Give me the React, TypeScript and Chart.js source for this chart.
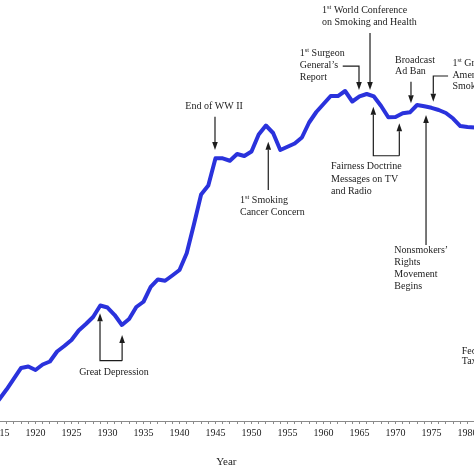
import { useEffect, useRef } from 'react';
import { Chart, registerables } from 'chart.js';

Chart.register(...registerables);

// Per-capita cigarette consumption by year
const years = [
  1914, 1915, 1916, 1917, 1918, 1919, 1920, 1921, 1922, 1923, 1924, 1925, 1926, 1927,
  1928, 1929, 1930, 1931, 1932, 1933, 1934, 1935, 1936, 1937, 1938, 1939, 1940, 1941,
  1942, 1943, 1944, 1945, 1946, 1947, 1948, 1949, 1950, 1951, 1952, 1953, 1954, 1955,
  1956, 1957, 1958, 1959, 1960, 1961, 1962, 1963, 1964, 1965, 1966, 1967, 1968, 1969,
  1970, 1971, 1972, 1973, 1974, 1975, 1976, 1977, 1978, 1979, 1980, 1981,
];
const perCapita = [
  170, 293, 423, 565, 707, 727, 680, 753, 793, 927, 1000, 1080, 1207, 1293,
  1387, 1540, 1513, 1413, 1280, 1360, 1520, 1590, 1787, 1887, 1870, 1940, 2013, 2236,
  2620, 3020, 3140, 3502, 3502, 3470, 3560, 3533, 3593, 3820, 3940, 3840, 3613, 3657,
  3700, 3780, 3980, 4120, 4227, 4333, 4333, 4400, 4260, 4327, 4360, 4327, 4200, 4050,
  4053, 4103, 4116, 4213, 4196, 4176, 4147, 4107, 4033, 3933, 3920, 3913,
];

const AXIS_MIN_YEAR = 1900;
const AXIS_MAX_YEAR = 1993;
const LABEL_EVERY = 5;
const AXIS_TITLE = 'Year';

const SERIF = "'Liberation Serif', 'Times New Roman', serif";
const INK = '#1c1c1c';

// Historical events: text anchored in (year, value) space, "{st}" marks superscript.
type EventNote = {
  lines: string[];
  at: [number, number];
  align: 'left' | 'center';
  gap: number;
  arrows: [number, number][][];
};

const EVENTS: EventNote[] = [
  {
    lines: ['Great Depression'],
    at: [1930.9, 653],
    align: 'center',
    gap: 12,
    arrows: [
      [[1932.03, 804], [1928.96, 804], [1928.96, 1436]],
      [[1932.03, 804], [1932.03, 1147]],
    ],
  },
  {
    lines: ['End of WW II'],
    at: [1944.8, 4200],
    align: 'center',
    gap: 12,
    arrows: [[[1944.93, 4057], [1944.93, 3613]]],
  },
  {
    lines: ['1{st} Smoking', 'Cancer Concern'],
    at: [1948.4, 2937],
    align: 'left',
    gap: 12,
    arrows: [[[1952.33, 3080], [1952.33, 3724]]],
  },
  {
    lines: ['1{st} World Conference', 'on Smoking and Health'],
    at: [1959.8, 5471],
    align: 'left',
    gap: 12,
    arrows: [[[1966.46, 5173], [1966.46, 4413]]],
  },
  {
    lines: ['1{st} Surgeon', 'General\u2019s', 'Report'],
    at: [1956.7, 4903],
    align: 'left',
    gap: 12,
    arrows: [[[1962.67, 4733], [1964.93, 4733], [1964.93, 4413]]],
  },
  {
    lines: ['Broadcast', 'Ad Ban'],
    at: [1969.93, 4813],
    align: 'left',
    gap: 11.7,
    arrows: [[[1972.15, 4524], [1972.15, 4236]]],
  },
  {
    lines: ['1{st} Great', 'American', 'Smokeout'],
    at: [1977.9, 4769],
    align: 'left',
    gap: 11.7,
    arrows: [[[1977.3, 4600], [1975.25, 4600], [1975.25, 4257]]],
  },
  {
    lines: ['Fairness Doctrine', 'Messages on TV', 'and Radio'],
    at: [1961.04, 3391],
    align: 'left',
    gap: 12.2,
    arrows: [
      [[1970.53, 3537], [1966.92, 3537], [1966.92, 4191]],
      [[1970.53, 3537], [1970.53, 3969]],
    ],
  },
  {
    lines: ['Nonsmokers\u2019', 'Rights', 'Movement', 'Begins'],
    at: [1969.83, 2271],
    align: 'left',
    gap: 11.8,
    arrows: [[[1974.24, 2347], [1974.24, 4080]]],
  },
  {
    lines: ['Federal Cigarette', 'Tax Doubles'],
    at: [1979.2, 933],
    align: 'left',
    gap: 10.8,
    arrows: [],
  },
];

function splitSup(line: string) {
  const parts = line.split(/\{([^}]*)\}/);
  return parts.map((t, i) => ({ t, sup: i % 2 === 1 })).filter((p) => p.t.length > 0);
}

const eventsPlugin = {
  id: 'historyEvents',
  afterDatasetsDraw(chart: any) {
    const { ctx } = chart;
    const xs = chart.scales.x;
    const ys = chart.scales.y;
    const mainFont = `10px ${SERIF}`;
    const supFont = `6.5px ${SERIF}`;
    ctx.save();
    ctx.strokeStyle = INK;
    ctx.fillStyle = INK;
    ctx.lineWidth = 1.2;
    for (const ev of EVENTS) {
      for (const path of ev.arrows) {
        const pts = path.map(([a, b]) => [xs.getPixelForValue(a), ys.getPixelForValue(b)]);
        const n = pts.length;
        const [tx, ty] = pts[n - 1];
        const [px, py] = pts[n - 2];
        const len = Math.hypot(tx - px, ty - py) || 1;
        const ux = (tx - px) / len;
        const uy = (ty - py) / len;
        const headLen = 8;
        const headHalf = 2.8;
        const bx = tx - ux * headLen;
        const by = ty - uy * headLen;
        ctx.beginPath();
        ctx.moveTo(pts[0][0], pts[0][1]);
        for (let i = 1; i < n - 1; i++) ctx.lineTo(pts[i][0], pts[i][1]);
        ctx.lineTo(bx, by);
        ctx.stroke();
        ctx.beginPath();
        ctx.moveTo(tx, ty);
        ctx.lineTo(bx - uy * headHalf, by + ux * headHalf);
        ctx.lineTo(bx + uy * headHalf, by - ux * headHalf);
        ctx.closePath();
        ctx.fill();
      }
      const ax = xs.getPixelForValue(ev.at[0]);
      const ay = ys.getPixelForValue(ev.at[1]);
      ctx.textBaseline = 'middle';
      ctx.textAlign = 'left';
      ev.lines.forEach((line, li) => {
        const segs = splitSup(line);
        let total = 0;
        for (const s of segs) {
          ctx.font = s.sup ? supFont : mainFont;
          total += ctx.measureText(s.t).width;
        }
        let cx = ev.align === 'center' ? ax - total / 2 : ax;
        const cy = ay + li * ev.gap;
        for (const s of segs) {
          ctx.font = s.sup ? supFont : mainFont;
          ctx.fillText(s.t, cx, s.sup ? cy - 3.2 : cy);
          cx += ctx.measureText(s.t).width;
        }
      });
    }
    ctx.restore();
  },
};

export default function App() {
  const canvasRef = useRef<HTMLCanvasElement>(null);

  useEffect(() => {
    const canvas = canvasRef.current;
    if (!canvas) return;
    const tickValues: { value: number }[] = [];
    for (let yr = AXIS_MIN_YEAR; yr <= AXIS_MAX_YEAR; yr++) tickValues.push({ value: yr });

    const chart = new Chart(canvas, {
      type: 'line',
      data: {
        datasets: [
          {
            data: years.map((yr, i) => ({ x: yr, y: perCapita[i] })),
            borderColor: '#2a32dc',
            borderWidth: 4,
            pointRadius: 0,
            tension: 0,
            borderJoinStyle: 'round',
            borderCapStyle: 'round',
          },
        ],
      },
      options: {
        responsive: false,
        devicePixelRatio: 1,
        animation: false,
        layout: { padding: { left: 19.5, right: 20.9, top: 46, bottom: 0 } },
        plugins: { legend: { display: false }, tooltip: { enabled: false } },
        scales: {
          x: {
            type: 'linear',
            min: AXIS_MIN_YEAR,
            max: AXIS_MAX_YEAR,
            afterBuildTicks: (scale: any) => {
              scale.ticks = tickValues.map((t) => ({ ...t }));
            },
            afterFit: (scale: any) => {
              scale.height = 53;
            },
            grid: {
              display: true,
              drawOnChartArea: false,
              drawTicks: true,
              tickLength: 3,
              color: '#8a8a8a',
            },
            border: { display: true, color: '#8a8a8a', width: 1 },
            ticks: {
              autoSkip: false,
              maxRotation: 0,
              padding: 3,
              color: INK,
              font: { family: SERIF, size: 10 },
              callback: (v: any) => (Number(v) % LABEL_EVERY === 0 ? String(v) : ''),
            },
            title: {
              display: true,
              text: AXIS_TITLE,
              color: INK,
              font: { family: SERIF, size: 11 },
              padding: { top: 0, bottom: 5 },
            },
          },
          y: { display: false, min: 0, max: 5000 },
        },
      },
      plugins: [eventsPlugin],
    } as any);
    return () => chart.destroy();
  }, []);

  return (
    <div
      style={{
        position: 'fixed',
        left: 0,
        top: 0,
        width: 474,
        height: 474,
        overflow: 'hidden',
        background: '#fff',
      }}
    >
      <canvas
        ref={canvasRef}
        width={710}
        height={474}
        style={{ position: 'absolute', left: -128, top: 0, width: 710, height: 474 }}
      />
    </div>
  );
}
